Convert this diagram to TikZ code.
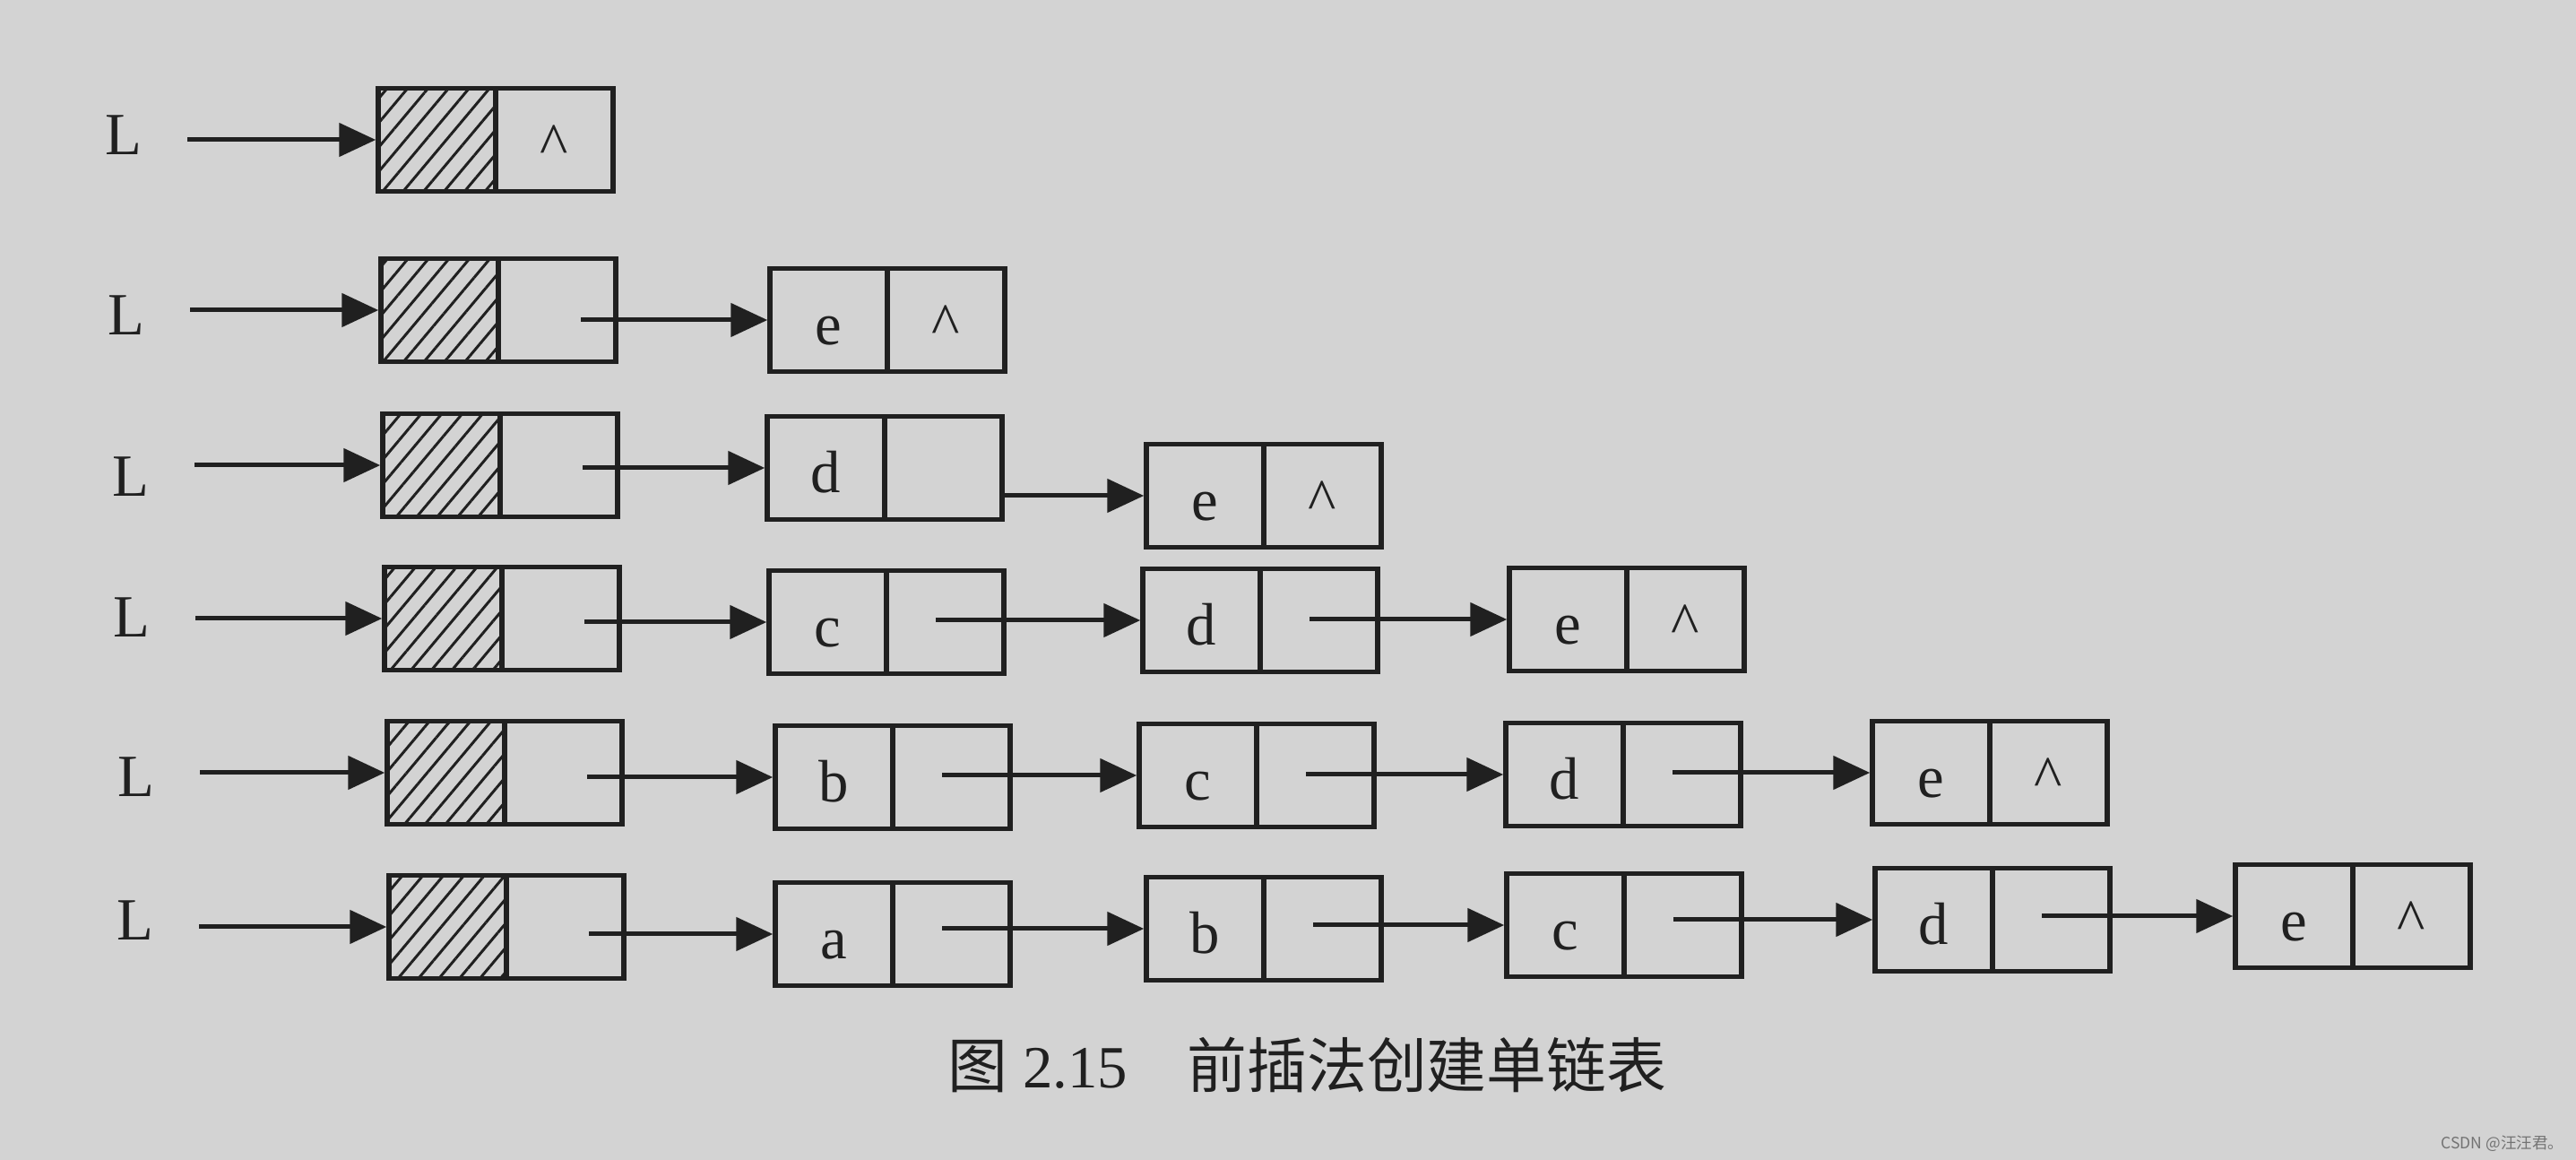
\documentclass[tikz,border=0pt]{standalone}
\usepackage{fontspec}
\setmainfont{Liberation Serif}
\newfontfamily\cjk{Noto Sans CJK SC}
\usetikzlibrary{arrows.meta,patterns.meta,calc}
\definecolor{paper}{RGB}{211,211,211}
\definecolor{ink}{RGB}{32,32,32}
\newcommand\fields[2]{\makebox[1.31cm]{#1}\makebox[1.31cm]{#2}}
\newcommand\nilmark{\textasciicircum}
\tikzset{
  lbl/.style={inner xsep=0.5cm, inner ysep=0pt},
  field/.style={draw=ink, line width=0.055cm, inner sep=0pt,
    text height=0.85cm, text depth=0.3cm,
    path picture={\draw[ink, line width=0.055cm] (path picture bounding box.north) -- (path picture bounding box.south);}},
  headfield/.style={draw=ink, line width=0.055cm, inner sep=0pt,
    text height=0.85cm, text depth=0.3cm,
    path picture={
      \fill[pattern={Lines[angle=50,distance=1.75mm,line width=0.3mm]}, pattern color=ink]
        (path picture bounding box.north west) rectangle (path picture bounding box.south);
      \draw[ink, line width=0.055cm] (path picture bounding box.north) -- (path picture bounding box.south);}},
  ptr/.style={draw=ink, line width=0.05cm, -{Triangle[length=0.41cm,width=0.37cm]}}
}
\begin{document}
\begin{tikzpicture}[font=\fontsize{19pt}{23pt}\selectfont, text=ink]
  \fill[paper] (0,0) rectangle (28.74,-12.94);
  \path
    (1.38,-1.51) node[lbl] (L1) {L}
    (1.41,-3.52) node[lbl] (L2) {L}
    (1.46,-5.32) node[lbl] (L3) {L}
    (1.47,-6.89) node[lbl] (L4) {L}
    (1.52,-8.67) node[lbl] (L5) {L}
    (1.51,-10.27) node[lbl] (L6) {L};
  \path
    (5.53,-1.56) node[headfield] (h1) {\fields{}{\nilmark}}
    (5.56,-3.46) node[headfield] (h2) {\fields{}{}}
    (5.58,-5.19) node[headfield] (h3) {\fields{}{}}
    (5.60,-6.90) node[headfield] (h4) {\fields{}{}}
    (5.63,-8.62) node[headfield] (h5) {\fields{}{}}
    (5.65,-10.34) node[headfield] (h6) {\fields{}{}};
  \path
    (9.90,-3.57) node[field] (e2) {\fields{e}{\nilmark}}
    (9.87,-5.22) node[field] (d3) {\fields{d}{}}
    (14.10,-5.53) node[field] (e3) {\fields{e}{\nilmark}}
    (9.89,-6.94) node[field] (c4) {\fields{c}{}}
    (14.06,-6.92) node[field] (d4) {\fields{d}{}}
    (18.15,-6.91) node[field] (e4) {\fields{e}{\nilmark}}
    (9.96,-8.67) node[field] (b5) {\fields{b}{}}
    (14.02,-8.65) node[field] (c5) {\fields{c}{}}
    (18.11,-8.64) node[field] (d5) {\fields{d}{}}
    (22.20,-8.62) node[field] (e5) {\fields{e}{\nilmark}}
    (9.96,-10.42) node[field] (a6) {\fields{a}{}}
    (14.10,-10.36) node[field] (b6) {\fields{b}{}}
    (18.12,-10.32) node[field] (c6) {\fields{c}{}}
    (22.23,-10.26) node[field] (d6) {\fields{d}{}}
    (26.25,-10.22) node[field] (e6) {\fields{e}{\nilmark}};
  \begin{scope}[ptr]
    \draw (L1.east |- h1.west) to (h1.west);
    \draw (L2.east |- h2.west) to (h2.west);
    \draw (L3.east |- h3.west) to (h3.west);
    \draw (L4.east |- h4.west) to (h4.west);
    \draw (L5.east |- h5.west) to (h5.west);
    \draw (L6.east |- h6.west) to (h6.west);
    \draw ($(h2 |- e2.west)+(0.92,0)$) to (e2.west);
    \draw ($(h3 |- d3.west)+(0.92,0)$) to (d3.west);
    \draw (d3.east |- e3.west) to (e3.west);
    \draw ($(h4 |- c4.west)+(0.92,0)$) to (c4.west);
    \draw ($(c4 |- d4.west)+(0.55,0)$) to (d4.west);
    \draw ($(d4 |- e4.west)+(0.55,0)$) to (e4.west);
    \draw ($(h5 |- b5.west)+(0.92,0)$) to (b5.west);
    \draw ($(b5 |- c5.west)+(0.55,0)$) to (c5.west);
    \draw ($(c5 |- d5.west)+(0.55,0)$) to (d5.west);
    \draw ($(d5 |- e5.west)+(0.55,0)$) to (e5.west);
    \draw ($(h6 |- a6.west)+(0.92,0)$) to (a6.west);
    \draw ($(a6 |- b6.west)+(0.55,0)$) to (b6.west);
    \draw ($(b6 |- c6.west)+(0.55,0)$) to (c6.west);
    \draw ($(c6 |- d6.west)+(0.55,0)$) to (d6.west);
    \draw ($(d6 |- e6.west)+(0.55,0)$) to (e6.west);
  \end{scope}
  \node[anchor=base west, inner sep=0pt] (caption) at (10.57,-12.13)
    {{\cjk 图} 2.15{\cjk 　前插法创建单链表}};
  \node[anchor=east, inner sep=0pt, text=black!55, font=\cjk\fontsize{5pt}{6pt}\selectfont] (mark) at (28.61,-12.76)
    {CSDN @汪汪君。};
\end{tikzpicture}
\end{document}
